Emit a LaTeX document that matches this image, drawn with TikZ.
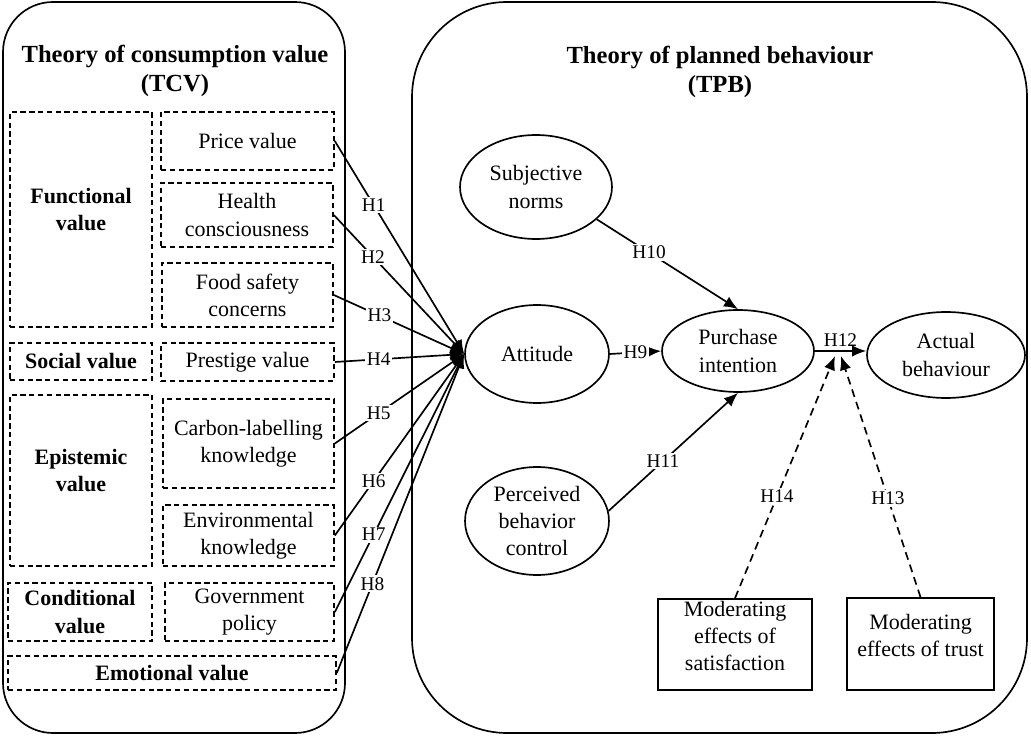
\documentclass[tikz,border=0pt]{standalone}
\usepackage{fontspec}
\setmainfont{Liberation Serif}
\usetikzlibrary{arrows.meta,shapes.geometric}

\tikzset{
	dbox/.style={draw, dash pattern=on 3pt off 2pt, inner sep=0pt, align=center},
	sbox/.style={draw, inner sep=0pt, align=center},
	oval/.style={draw, ellipse, inner sep=0pt, align=center},
	hyp/.style={fill=white, inner sep=1pt, font=\fontsize{11}{13}\selectfont},
	link/.style={-{Latex[length=8pt, width=6.5pt]}},
	modlink/.style={link, dash pattern=on 4.5pt off 3pt},
	title/.style={align=center, font=\fontsize{14}{17}\selectfont\bfseries},
}

\begin{document}
\fontsize{12.5}{15.4}\selectfont
\begin{tikzpicture}[x=0.02cm, y=-0.02cm, line width=0.95pt]
	\useasboundingbox (0,0) rectangle (1031,736);
	% Frames and titles:
	\draw[rounded corners=1cm] (3,2) rectangle (345,733);
	\draw[rounded corners=1.9cm] (412,2) rectangle (1027,733);
	\node[title] (tcv) at (175,71) {Theory of consumption value\\(TCV)};
	\node[title] (tpb) at (720,72) {Theory of planned behaviour\\(TPB)};
	% Value groups (left column):
	\node[dbox, font=\bfseries, text depth=12pt, minimum width=2.84cm, minimum height=4.3cm] (functional) at (81,219.5) {Functional\\value};
	\node[dbox, font=\bfseries, minimum width=2.84cm, minimum height=0.74cm] (social) at (81,361.5) {Social value};
	\node[dbox, font=\bfseries, text depth=11pt, minimum width=2.84cm, minimum height=3.42cm] (epistemic) at (81,480.5) {Epistemic\\value};
	\node[dbox, font=\bfseries, minimum width=2.88cm, minimum height=1.16cm] (conditional) at (80,612) {Conditional\\value};
	\node[dbox, font=\bfseries, minimum width=6.56cm, minimum height=0.68cm] (emotional) at (172,673) {Emotional value};
	% Value items (right column):
	\node[dbox, minimum width=3.46cm, minimum height=1.16cm] (price) at (247.5,141) {Price value};
	\node[dbox, minimum width=3.44cm, minimum height=1.28cm] (health) at (247,215) {Health\\consciousness};
	\node[dbox, minimum width=3.42cm, minimum height=1.28cm] (food) at (247.5,295) {Food safety\\concerns};
	\node[dbox, minimum width=3.46cm, minimum height=0.76cm] (prestige) at (247.5,362) {Prestige value};
	\node[dbox, minimum width=3.42cm, minimum height=1.78cm] (carbon) at (248.5,443.5) {Carbon-labelling\\knowledge};
	\node[dbox, minimum width=3.42cm, minimum height=1.22cm] (environ) at (248.5,535.5) {Environmental\\knowledge};
	\node[dbox, minimum width=3.38cm, minimum height=1.16cm] (policy) at (249.5,612) {Government\\policy};
	% TPB constructs:
	\node[oval, minimum width=3.04cm, minimum height=2.08cm] (norms) at (536,187) {Subjective\\norms};
	\node[oval, minimum width=2.88cm, minimum height=1.96cm] (attitude) at (537,354) {Attitude};
	\node[oval, minimum width=2.88cm, minimum height=2.16cm] (control) at (537,521) {Perceived\\behavior\\control};
	\node[oval, minimum width=3.04cm, minimum height=1.64cm] (intention) at (738,351) {Purchase\\intention};
	\node[oval, minimum width=3.16cm, minimum height=1.72cm] (behaviour) at (946,355) {Actual\\behaviour};
	\node[sbox, text depth=10pt, minimum width=3.08cm, minimum height=1.82cm] (satisf) at (735,644.5) {Moderating\\effects of\\satisfaction};
	\node[sbox, text depth=10pt, minimum width=2.94cm, minimum height=1.84cm] (trust) at (920.5,644) {Moderating\\effects of trust};
	\coordinate (h14end) at (835,356);
	\coordinate (h13end) at (841,356);
	% Hypotheses H1--H8:
	\draw[link] (price.east) -- node[hyp, pos=0.3] {H1} (attitude.west);
	\draw[link] (health.east) -- node[hyp, pos=0.3] {H2} (attitude.west);
	\draw[link] (food.east) -- node[hyp, pos=0.35] {H3} (attitude.west);
	\draw[link] (prestige.east) -- node[hyp, pos=0.34] {H4} (attitude.west);
	\draw[link] (carbon.east) -- node[hyp, pos=0.34] {H5} (attitude.west);
	\draw[link] (environ.east) -- node[hyp, pos=0.3] {H6} (attitude.west);
	\draw[link] (policy.east) -- node[hyp, pos=0.3] {H7} (attitude.west);
	\draw[link] (emotional.east) -- node[hyp, pos=0.28] {H8} (attitude.west);
	% Hypotheses H9--H14:
	\draw[link] (attitude.east) -- node[hyp] {H9} (intention.west);
	\draw[link] (norms.-28) -- node[hyp, pos=0.37] {H10} (intention.north);
	\draw[link] (control.8) -- node[hyp, pos=0.42] {H11} (intention.south);
	\draw[link] (intention.east) -- node[hyp, above, fill=none, yshift=1pt] {H12} (intention.east -| behaviour.west);
	\draw[modlink] (satisf.north) -- node[hyp, pos=0.42] {H14} (h14end);
	\draw[modlink] (trust.north) -- node[hyp, pos=0.41] {H13} (h13end);
\end{tikzpicture}
\end{document}
